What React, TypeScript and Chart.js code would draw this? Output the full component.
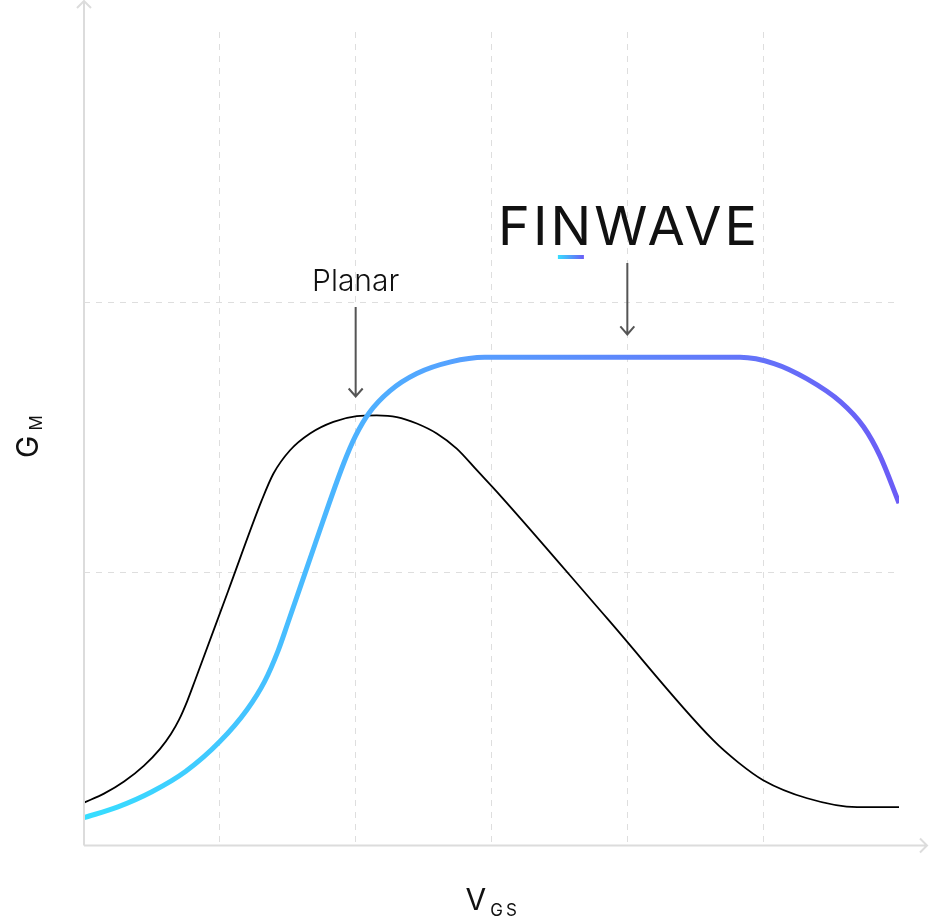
import { useEffect, useRef } from "react";
import { Chart, registerables } from "chart.js";

Chart.register(...registerables);

// V_GS positions (axis units, 0..6) and G_M values (0..3)
const finwaveX = [0, 0.25, 0.5, 0.75, 1.0, 1.2, 1.33, 1.43, 1.5, 1.7, 1.91, 2.0, 2.1, 2.25, 2.45, 2.7, 2.95, 3.9, 4.83, 5.08, 5.32, 5.57, 5.74, 5.86, 6.0];
const finwaveY = [0.09, 0.13, 0.186, 0.262, 0.372, 0.49, 0.595, 0.71, 0.81, 1.102, 1.4, 1.505, 1.59, 1.67, 1.735, 1.778, 1.795, 1.795, 1.795, 1.772, 1.716, 1.63, 1.537, 1.43, 1.255];

const planarX = [0, 0.147, 0.295, 0.442, 0.56, 0.64, 0.7, 0.76, 0.82, 1.06, 1.309, 1.394, 1.517, 1.664, 1.836, 2.008, 2.155, 2.303, 2.45, 2.597, 2.744, 2.892, 3.063, 3.85, 4.632, 4.816, 5.0, 5.324, 5.692, 6.0];
const planarY = [0.146, 0.179, 0.224, 0.283, 0.345, 0.4, 0.453, 0.522, 0.602, 0.928, 1.266, 1.364, 1.451, 1.513, 1.556, 1.577, 1.58, 1.574, 1.55, 1.513, 1.457, 1.377, 1.284, 0.829, 0.377, 0.295, 0.229, 0.162, 0.129, 0.129];

const xGridValues = [1, 2, 3, 4, 5];
const yGridValues = [1, 2];

const xTitle = "V";
const xTitleSub = "GS";
const yTitle = "G";
const yTitleSub = "M";
const planarLabel = "Planar";
const finwaveLabel = "FINWAVE";

const GRID = "#dedede";
const AXIS = "#dcdcdc";
const FONT = "Inter, 'Noto Sans', sans-serif";

const toPoints = (xs: number[], ys: number[]) => xs.map((x, i) => ({ x, y: ys[i] }));

function arrowDown(c: CanvasRenderingContext2D, x: number, y0: number, y1: number) {
  c.beginPath();
  c.moveTo(x, y0);
  c.lineTo(x, y1);
  c.moveTo(x - 7, y1 - 8);
  c.lineTo(x, y1);
  c.lineTo(x + 7, y1 - 8);
  c.stroke();
}

const decorations = {
  id: "decorations",
  afterDraw(chart: Chart) {
    const c = chart.ctx;
    const { left, right, bottom } = chart.chartArea;
    const xs = chart.scales.x;
    const ys = chart.scales.y;
    c.save();

    // axes with arrowheads
    const axisY = bottom + 3.5;
    c.strokeStyle = AXIS;
    c.lineWidth = 2;
    c.beginPath();
    c.moveTo(left, axisY);
    c.lineTo(left, 1);
    c.moveTo(left - 7, 8);
    c.lineTo(left, 1);
    c.lineTo(left + 7, 8);
    c.moveTo(left, axisY);
    c.lineTo(right + 28, axisY);
    c.moveTo(right + 21, axisY - 7);
    c.lineTo(right + 28, axisY);
    c.lineTo(right + 21, axisY + 7);
    c.stroke();

    // axis titles
    c.fillStyle = "#111";
    c.textBaseline = "alphabetic";
    c.textAlign = "left";
    c.font = `400 30px ${FONT}`;
    const vw = c.measureText(xTitle).width;
    const vx = xs.getPixelForValue(3) - 26;
    c.fillText(xTitle, vx, 910);
    c.font = `400 17px ${FONT}`;
    c.letterSpacing = "3px";
    c.fillText(xTitleSub, vx + vw + 4, 916);
    c.letterSpacing = "0px";

    c.save();
    c.translate(38, 458);
    c.rotate(-Math.PI / 2);
    c.font = `400 30px ${FONT}`;
    const gw = c.measureText(yTitle).width;
    c.fillText(yTitle, 0, 0);
    c.font = `400 17px ${FONT}`;
    c.fillText(yTitleSub, gw + 5, 4);
    c.restore();

    // Planar label + arrow
    const px = xs.getPixelForValue(2);
    c.font = `300 30px ${FONT}`;
    c.textAlign = "center";
    c.fillText(planarLabel, px, 291);
    c.strokeStyle = "#555";
    c.lineWidth = 2;
    arrowDown(c, px, 307, ys.getPixelForValue(1.65));

    // FINWAVE logo text + arrow
    const fx = xs.getPixelForValue(4);
    c.textAlign = "left";
    c.font = `400 54px ${FONT}`;
    const plain = c.measureText(finwaveLabel).width;
    const spacing = (259 - plain) / 6;
    c.letterSpacing = `${spacing}px`;
    const logoLeft = 498;
    c.fillText(finwaveLabel, logoLeft, 245);
    const fiW = c.measureText("FI").width;
    const nW = c.measureText("N").width - spacing;
    c.letterSpacing = "0px";
    const barW = 26;
    const barX = logoLeft + fiW + nW / 2 - barW / 2;
    const g = c.createLinearGradient(barX, 0, barX + barW, 0);
    g.addColorStop(0, "#36DEFF");
    g.addColorStop(1, "#6B5CF6");
    c.fillStyle = g;
    c.fillRect(barX, 255, barW, 4);
    c.strokeStyle = "#555";
    arrowDown(c, fx, 263, ys.getPixelForValue(1.88));

    c.restore();
  },
};

export default function App() {
  const canvasRef = useRef<HTMLCanvasElement | null>(null);
  const chartRef = useRef<Chart | null>(null);

  useEffect(() => {
    document.body.style.margin = "0";
    const canvas = canvasRef.current;
    if (!canvas) return;

    chartRef.current = new Chart(canvas, {
      type: "scatter",
      data: {
        datasets: [
          {
            label: "Finwave",
            data: toPoints(finwaveX, finwaveY),
            showLine: true,
            borderWidth: 5,
            borderColor: (ctx: any) => {
              const area = ctx.chart.chartArea;
              if (!area) return "#55A2FF";
              const g = ctx.chart.ctx.createLinearGradient(area.left, 0, area.right, 0);
              g.addColorStop(0, "#36DEFF");
              g.addColorStop(0.45, "#55A2FF");
              g.addColorStop(1, "#6B5CF6");
              return g;
            },
            pointRadius: 0,
            cubicInterpolationMode: "monotone",
          },
          {
            label: "Planar",
            data: toPoints(planarX, planarY),
            showLine: true,
            borderWidth: 1.8,
            borderColor: "#000",
            pointRadius: 0,
            cubicInterpolationMode: "monotone",
          },
        ],
      },
      options: {
        responsive: true,
        maintainAspectRatio: false,
        animation: false,
        layout: { padding: { left: 84, top: 32, right: 30, bottom: 81 } },
        plugins: { legend: { display: false }, tooltip: { enabled: false } },
        scales: {
          x: {
            type: "linear",
            min: 0,
            max: 6,
            ticks: { display: false, stepSize: 1 },
            grid: {
              drawTicks: false,
              color: (ctx: any) => (xGridValues.includes(ctx.tick?.value) ? GRID : "transparent"),
            },
            border: { display: false, dash: [6, 6] },
          },
          y: {
            type: "linear",
            min: 0,
            max: 3,
            ticks: { display: false, stepSize: 1 },
            grid: {
              drawTicks: false,
              color: (ctx: any) => (yGridValues.includes(ctx.tick?.value) ? GRID : "transparent"),
            },
            border: { display: false, dash: [6, 6] },
          },
        },
      },
      plugins: [decorations],
    });

    return () => {
      if (chartRef.current) {
        chartRef.current.destroy();
        chartRef.current = null;
      }
    };
  }, []);

  return (
    <div style={{ width: 929, height: 923, position: "relative" }}>
      <canvas ref={canvasRef} />
    </div>
  );
}
